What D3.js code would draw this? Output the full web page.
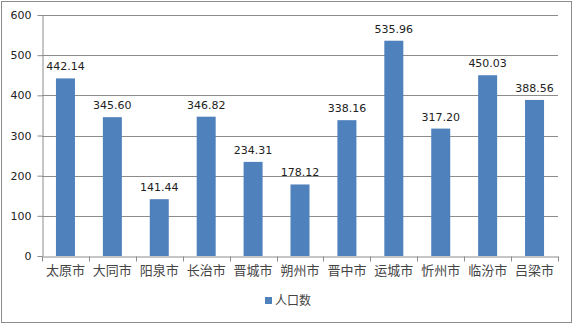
<!DOCTYPE html>
<html>
<head>
<meta charset="utf-8">
<script src="https://cdn.jsdelivr.net/npm/d3@7"></script>
<style>
  body { margin: 0; background: #fff; }
</style>
</head>
<body>
<div id="chart"></div>
<script>
var cities = ['太原市', '大同市', '阳泉市', '长治市', '晋城市', '朔州市', '晋中市', '运城市', '忻州市', '临汾市', '吕梁市'];
var population = [442.14, 345.60, 141.44, 346.82, 234.31, 178.12, 338.16, 535.96, 317.20, 450.03, 388.56];
var yTicks = [0, 100, 200, 300, 400, 500, 600];
var seriesName = '人口数';

var width = 573,
    height = 324,
    margin = { top: 15, right: 15, bottom: 68, left: 42 };

var svg = d3.select('#chart').append('svg')
    .attr('width', width)
    .attr('height', height);

// outer frame
svg.append('rect')
    .attr('x', 1.5).attr('y', 1.5)
    .attr('width', width - 3).attr('height', height - 3)
    .attr('fill', '#fff')
    .attr('stroke', '#8c8c8c');

var x = d3.scaleBand().domain(cities)
    .range([margin.left, width - margin.right]);
var y = d3.scaleLinear().domain([0, 600])
    .range([height - margin.bottom, margin.top]);

// gridlines
svg.append('g')
    .selectAll('line')
    .data(yTicks.slice(1))
    .enter().append('line')
    .attr('x1', margin.left).attr('x2', width - margin.right)
    .attr('y1', d => Math.round(y(d)) + 0.5).attr('y2', d => Math.round(y(d)) + 0.5)
    .attr('stroke', '#8c8c8c');

// bars
var barW = 19;
svg.append('g')
    .selectAll('rect')
    .data(population)
    .enter().append('rect')
    .attr('x', (d, i) => x(cities[i]) + x.bandwidth() / 2 - barW / 2)
    .attr('y', d => y(d))
    .attr('height', d => y(0) - y(d))
    .attr('width', barW)
    .attr('fill', '#4f81bd');

// value labels
svg.append('g')
    .selectAll('text')
    .data(population)
    .enter().append('text')
    .attr('x', (d, i) => x(cities[i]) + x.bandwidth() / 2)
    .attr('y', d => y(d) - 8)
    .attr('text-anchor', 'middle')
    .attr('font-family', 'DejaVu Sans, sans-serif')
    .attr('font-size', 11)
    .attr('fill', '#222')
    .text(d => d.toFixed(2));

// x axis
var xAxis = svg.append('g')
    .attr('transform', `translate(0,${Math.round(y(0)) + 0.5})`)
    .call(d3.axisBottom(x).tickSize(0).tickPadding(9));
xAxis.select('.domain').attr('stroke', '#8c8c8c');
xAxis.selectAll('text')
    .attr('font-family', 'Noto Sans CJK SC, sans-serif')
    .attr('font-size', 13)
    .attr('fill', '#444');
xAxis.append('g')
    .selectAll('line')
    .data(cities.concat(['end']))
    .enter().append('line')
    .attr('x1', (d, i) => Math.round(i < cities.length ? x(d) : width - margin.right) + 0.5)
    .attr('x2', (d, i) => Math.round(i < cities.length ? x(d) : width - margin.right) + 0.5)
    .attr('y1', 0).attr('y2', 5)
    .attr('stroke', '#8c8c8c');

// y axis
var yAxis = svg.append('g')
    .attr('transform', `translate(${margin.left + 0.5},0)`)
    .call(d3.axisLeft(y).tickValues(yTicks).tickSize(5).tickPadding(6).tickSizeOuter(0));
yAxis.select('.domain').attr('stroke', '#8c8c8c');
yAxis.selectAll('line').attr('stroke', '#8c8c8c');
yAxis.selectAll('text')
    .attr('font-family', 'DejaVu Sans, sans-serif')
    .attr('font-size', 11)
    .attr('fill', '#222');

// legend
var legend = svg.append('g').attr('transform', 'translate(265,297)');
legend.append('rect')
    .attr('width', 7).attr('height', 7)
    .attr('fill', '#4f81bd');
legend.append('text')
    .attr('x', 10).attr('y', 8)
    .attr('font-family', 'Noto Sans CJK SC, sans-serif')
    .attr('font-size', 12)
    .attr('fill', '#444')
    .text(seriesName);
</script>
</body>
</html>
